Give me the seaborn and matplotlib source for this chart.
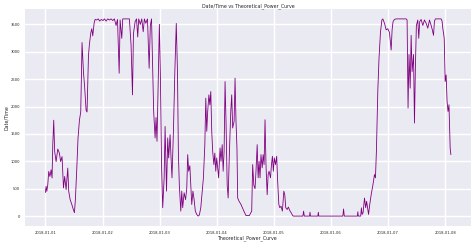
import matplotlib
matplotlib.use("Agg")
import matplotlib.pyplot as plt
import matplotlib.dates as mdates
import numpy as np
import pandas as pd
import seaborn as sns

# Hours since 2018-01-01 00:00 and theoretical power values
hours = [
    0.0, 0.3, 0.6, 1.0, 1.4, 1.9, 2.4, 2.8, 3.1, 3.5, 3.9, 4.5, 5.2, 5.9, 6.4, 7.0,
    7.6, 8.1, 8.7, 9.4, 9.8, 10.4, 11.1, 11.6, 12.2, 12.6, 13.2, 13.7, 14.3, 14.85,
    15.4, 16.0, 16.5, 17.1, 17.5, 18.1, 18.5, 19.1, 19.5, 19.9, 20.5, 20.9,
    21.5, 22.2, 22.8, 23.5, 24.2, 24.8, 25.5, 26.2, 26.9, 27.6, 28.3, 29.0, 29.7,
    30.3, 31.0, 31.4, 32.1, 32.5, 35.3, 36.0, 36.6, 37.0, 37.7, 38.3, 38.8, 39.2,
    39.9, 40.5, 41.1, 41.6, 42.2, 42.9, 43.6, 44.1, 44.6, 45.1, 45.5, 46.1, 46.5,
    46.9, 47.5, 47.9, 48.3, 48.8, 49.3, 49.9, 50.3, 50.9, 51.4, 51.8, 52.4, 52.8,
    53.2, 53.8, 54.4, 55.0, 55.5, 55.9, 56.3, 56.9, 57.3, 57.7, 58.3, 58.9, 59.4,
    59.8, 60.2, 60.7, 61.1, 61.5, 62.0, 62.5, 63.0, 63.6, 64.2, 64.7, 65.3, 65.9,
    66.4, 67.0, 67.4, 67.8, 68.2, 68.7, 69.1, 69.5, 69.9, 70.3, 70.8, 71.2, 71.6,
    72.0, 72.4, 72.8, 73.4, 73.8, 74.3, 74.7, 75.1, 75.5, 75.9, 76.4, 76.8, 77.3,
    77.9, 78.3, 78.7, 79.3, 79.7, 80.1, 80.5, 80.8, 81.4, 82.2, 83.4, 84.3, 85.7,
    86.7, 87.1, 87.6, 88.1, 88.5, 89.0, 89.4, 89.8, 90.2, 90.6, 91.1, 91.5, 91.9,
    92.3, 92.7, 93.2, 93.6, 94.0, 94.6, 95.0, 95.4, 95.8, 96.2, 96.7, 97.2, 97.6,
    98.1, 98.5, 99.0, 99.6, 100.2, 100.6, 101.0, 101.6, 102.1, 102.7, 103.3, 103.9,
    104.2, 108.2, 108.5, 108.8, 111.0, 111.2, 111.4, 114.5, 114.7, 114.9, 125.0,
    125.3, 125.6, 131.1, 131.3, 131.5, 132.5, 132.8, 133.1, 133.5, 134.1, 134.6,
    135.0, 135.8, 136.3, 136.9, 137.6, 138.3, 138.7, 139.1, 139.7, 140.2, 140.8,
    141.4, 141.8, 142.5, 143.2, 143.9, 144.6, 145.3, 145.7, 146.1, 146.7, 147.4,
    151.6, 152.0, 152.4, 152.8, 153.3, 153.7, 154.1, 154.7, 155.1, 155.5, 155.9,
    156.5, 156.9, 157.3, 157.9, 158.6, 159.3, 160.0, 160.7, 161.4, 162.1, 162.6,
    163.1, 163.5, 163.9, 166.3, 166.7, 167.0, 167.6, 168.0, 168.4, 168.8, 169.2,
    169.6, 170.1, 170.4,
]

power = [
    430, 543, 452, 574, 815, 724, 845, 695, 1298, 1750, 1177, 995, 1225, 1147, 995, 1086,
    514, 724, 483, 876, 452, 302, 212, 139, 62, 302, 876, 1419, 1750, 1900,
    3168, 2625, 2353, 1931, 1900, 2927, 3138, 3349, 3421, 3289, 3530, 3591,
    3580, 3600, 3560, 3590, 3570, 3600, 3560, 3600, 3580, 3600, 3570, 3600, 3480,
    3590, 2608, 3580, 3245, 3600, 3600, 3123, 2213, 3330, 3550, 3600, 3270, 3600,
    3500, 3600, 3365, 3600, 3520, 3600, 2699, 3480, 3600, 2638, 1910, 1426, 1800,
    1365, 2638, 3500, 2638, 940, 153, 698, 1637, 455, 1426, 1062, 1487, 1062,
    698, 1548, 2638, 3518, 2638, 1122, 546, 91, 455, 153, 425, 300, 500,
    1122, 819, 920, 560, 212, 455, 300, 91, 30, 0, 20, 153, 455,
    698, 1304, 2153, 1548, 1910, 2213, 2032, 2274, 1548, 1182, 940, 1150, 819,
    1062, 880, 698, 1243, 1000, 1304, 819, 1182, 2456, 1729, 560, 330, 1122,
    1910, 2213, 1608, 1729, 2517, 1729, 1243, 330, 270, 212, 91, 10, 10,
    91, 940, 560, 500, 819, 1304, 698, 1000, 698, 1122, 880, 1122, 940,
    1759, 940, 390, 759, 819, 698, 940, 1092, 819, 1062, 940, 1092, 638,
    212, 153, 180, 91, 455, 390, 153, 120, 165, 100, 60, 10,
    0, 0, 90, 0, 0, 70, 0, 0, 70, 0, 0,
    130, 0, 0, 80, 0, 0, 150, 30, 60, 330, 153,
    270, 30, 212, 390, 560, 759, 698, 1182, 2300, 2881, 3350,
    3580, 3600, 3520, 3400, 3420, 3350, 3032, 3400, 3550, 3590, 3600,
    3600, 3580, 1972, 2950, 2335, 3300, 2638, 2950, 1698, 2759, 3480,
    3580, 3245, 3550, 3590, 3480, 3580, 3520, 3430, 3580, 3480, 3400,
    3300, 3560, 3600, 3600, 3560, 3430, 3245, 2456, 2577, 2092, 1910,
    2032, 1243, 1122,
]

start = pd.Timestamp("2018-01-01 00:00")
df = pd.DataFrame({
    "Date/Time": start + pd.to_timedelta(hours, unit="h"),
    "Theoretical_Power_Curve": power,
})

sns.set_theme(style="darkgrid")
plt.rcParams["font.family"] = ["DejaVu Sans"]

fig, ax = plt.subplots(figsize=(4.74, 2.44), dpi=100)
fig.subplots_adjust(left=0.053, right=0.994, top=0.963, bottom=0.074)

sns.lineplot(data=df, x="Date/Time", y="Theoretical_Power_Curve",
             color="purple", linewidth=0.6, ax=ax)

ax.set_title("Date/Time vs Theoretical_Power_Curve", fontsize=3.4, pad=1.2)
ax.set_xlabel("Theoretical_Power_Curve", fontsize=3.4)
ax.set_ylabel("Date/Time", fontsize=3.4)
ax.xaxis.set_label_coords(0.5, -0.045)
ax.yaxis.set_label_coords(-0.037, 0.5)
ax.xaxis.set_major_locator(mdates.DayLocator())
ax.xaxis.set_major_formatter(mdates.DateFormatter("%Y-%m-%d"))
ax.set_yticks(np.arange(0, 3501, 500))
ax.tick_params(axis="both", length=0, labelsize=2.7, pad=3.5)
for side in ax.spines.values():
    side.set_visible(False)

fig.savefig("out.png", dpi=100)
